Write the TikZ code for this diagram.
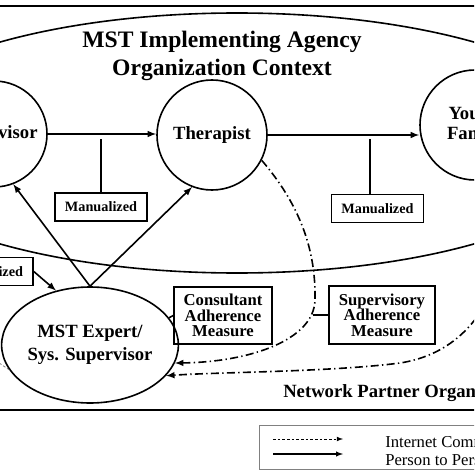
\documentclass[tikz,border=0pt]{standalone}
\usepackage{fontspec}
\setmainfont{Liberation Serif}
\usetikzlibrary{shapes.geometric}

\begin{document}
\begin{tikzpicture}[x=0.75pt, y=-0.75pt,
    agent/.style={draw, circle, line width=1.2pt, inner sep=0pt, align=center, font=\bfseries\fontsize{14}{15}\selectfont},
    manbox/.style={draw, line width=1.2pt, inner sep=0pt, minimum width=69pt, minimum height=21pt, font=\bfseries\fontsize{10.7}{12}\selectfont},
    measure/.style={draw, line width=1.2pt, inner sep=0pt, align=center, font=\bfseries\fontsize{12.5}{11.6}\selectfont},
    link/.style={line width=1.2pt},
    fback/.style={line width=1.2pt, dash pattern=on 6pt off 2.5pt on 1pt off 2.5pt},
    inet/.style={line width=0.6pt, dash pattern=on 2pt off 1.5pt},
    legtext/.style={anchor=base west, inner sep=0pt, font=\fontsize{12.5}{14}\selectfont}
    ]
    \useasboundingbox (0,0) rectangle (474,474);
    \fill[white] (0,0) rectangle (474,474);
    \clip (0,0) rectangle (474,474);

    % outer frame and agency context
    \draw[line width=1.4pt] (-20,6) rectangle (494,410);
    \draw[link] (237,143) ellipse [x radius=282pt, y radius=97.5pt];
    \node[inner sep=0pt, align=center, font=\bfseries\fontsize{17.7}{21}\selectfont] (title) at (222,55.5) {MST Implementing Agency\\Organization Context};

    % people
    \node[agent, minimum size=79.5pt] (sup) at (-6,134) {Supervisor};
    \node[agent, minimum size=82.5pt] (ther) at (212,135) {Therapist};
    \node[agent, minimum size=82.5pt, font=\bfseries\fontsize{14}{14.5}\selectfont] (youth) at (475,125) {Youth/\\Family};
    \node[draw, ellipse, line width=1.2pt, inner sep=0pt, minimum width=103.5pt, minimum height=87pt, align=center, font=\bfseries\fontsize{14}{17}\selectfont] (expert) at (90,345) {MST Expert/\\Sys. Supervisor};

    % manuals and measures
    \node[manbox] (man1) at (101,207) {Manualized};
    \node[manbox] (man2) at (377.5,208.5) {Manualized};
    \node[manbox] (man3) at (-13,271.5) {Manualized};
    \node[measure, minimum width=73.5pt, minimum height=42.75pt] (cons) at (223,315.5) {Consultant\\Adherence\\Measure};
    \node[measure, minimum width=79.5pt, minimum height=43.5pt] (supm) at (382,315) {Supervisory\\Adherence\\Measure};
    \node[anchor=base west, inner sep=0pt, font=\bfseries\fontsize{14}{16}\selectfont] (netlabel) at (283,397) {Network Partner Organization};

    \coordinate (m1top) at (101,139);
    \coordinate (m2top) at (370,139);
    \coordinate (tap) at (313,315);
    \coordinate (offleft) at (-20,350);
    \coordinate (offright) at (485,305);

    % person to person
    \draw[link, -latex] (sup.east) -- (sup.east -| ther.west);
    \draw[link, -latex] (ther.east) -- (ther.east -| youth.west);
    \draw[link] (man1.north) -- (m1top);
    \draw[link] (m2top |- man2.north) -- (m2top);
    \draw[link, -latex] (expert.north) -- (sup.-69);
    \draw[link, -latex] (expert.north) -- (ther.-111);
    \draw[link, -latex] (man3.east) -- (expert.122);
    \draw[link] (cons.west) -- (expert.19);
    \draw[link] (supm.west) -- (supm.west -| tap);

    % feedback
    \draw[fback, -latex] (ther.-27) .. controls (300,205) and (316,250) .. (315,300) .. controls (314,340) and (250,362) .. (expert.-12);
    \draw[fback, -latex] (offright) .. controls (470,330) and (445,356) .. (400,363) .. controls (330,372) and (220,372) .. (expert.-22);
    \draw[inet, gray] (offleft) -- (expert.197);

    % legend
    \draw[gray, line width=0.6pt] (259,425) rectangle (500,469);
    \coordinate (l1a) at (273,439);
    \coordinate (l1b) at (343,439);
    \coordinate (l2a) at (273,454);
    \coordinate (l2b) at (343,454);
    \draw[inet, -latex] (l1a) -- (l1b);
    \draw[line width=0.8pt, -latex] (l2a) -- (l2b);
    \node[legtext] (lgnet) at (385,447) {Internet Communication};
    \node[legtext] (lgpers) at (385,465) {Person to Person};
\end{tikzpicture}
\end{document}
